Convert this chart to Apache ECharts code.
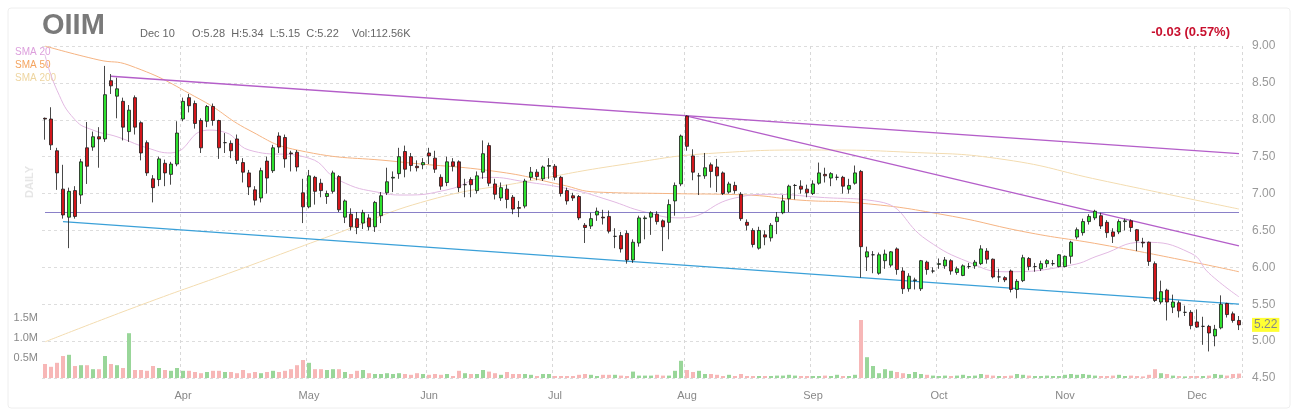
<!DOCTYPE html>
<html><head><meta charset="utf-8">
<script src="https://cdn.jsdelivr.net/npm/echarts@6/dist/echarts.min.js"></script>
<style>html,body{margin:0;padding:0;background:#fff}#c{width:1299px;height:418px}</style>
</head><body><div id="c"></div>
<script>
// [open, close, low, high]
const ohlc = [
[8.02,8.01,7.73,8.03],[8.01,7.66,7.59,8.17],[7.58,7.28,7.05,7.62],[7.06,6.71,6.66,7.39],[6.68,7.03,6.26,7.08],
[7.04,6.69,6.66,7.10],[6.98,7.43,6.86,7.47],[7.62,7.37,7.13,7.97],[7.63,7.77,7.58,7.84],[7.77,7.74,7.35,7.90],
[7.74,8.34,7.70,8.73],[8.53,8.46,8.35,8.62],[8.32,8.42,8.02,8.57],[8.25,7.90,7.72,8.30],[7.84,8.13,7.70,8.20],
[8.30,7.90,7.80,8.33],[7.96,7.55,7.45,7.98],[7.69,7.28,7.24,7.72],[7.20,7.08,6.88,7.25],[7.19,7.47,7.10,7.50],
[7.41,7.28,7.10,7.46],[7.26,7.40,7.12,7.43],[7.40,7.82,7.37,7.98],[8.01,8.25,7.98,8.30],[8.30,8.19,8.10,8.35],
[8.22,7.95,7.88,8.26],[7.99,7.62,7.55,8.02],[7.98,8.18,7.90,8.20],[8.18,7.99,7.92,8.22],[7.99,7.62,7.47,8.00],
[7.69,7.69,7.55,7.82],[7.68,7.58,7.48,7.72],[7.74,7.45,7.40,7.80],
[7.42,7.29,7.15,7.48],[7.28,7.09,6.98,7.32],[7.05,6.91,6.84,7.10],[6.94,7.31,6.88,7.35],[7.44,7.21,7.00,7.50],
[7.31,7.62,7.28,7.66],[7.78,7.63,7.55,7.83],[7.76,7.47,7.35,7.80],[7.55,7.54,7.30,7.58],[7.56,7.36,7.30,7.59],
[7.01,6.82,6.60,7.20],[6.82,7.24,6.80,7.32],[7.22,7.03,6.85,7.24],[7.14,7.04,6.95,7.20],[6.96,7.00,6.86,7.04],
[7.03,7.28,7.00,7.31],[7.23,6.78,6.75,7.25],[6.68,6.90,6.60,6.92],[6.72,6.55,6.50,6.80],[6.66,6.54,6.45,6.75],
[6.60,6.74,6.52,6.78],[6.67,6.55,6.50,6.72],[6.55,6.88,6.48,6.90],[6.70,6.97,6.60,7.02],[7.01,7.16,6.98,7.35],
[7.21,7.22,7.02,7.30],[7.27,7.50,7.20,7.62],[7.57,7.33,7.22,7.65],[7.50,7.38,7.30,7.55],[7.37,7.35,7.30,7.45],
[7.39,7.42,7.33,7.48],[7.55,7.51,7.40,7.62],[7.48,7.33,7.28,7.58],[7.22,7.10,7.05,7.26],
[7.15,7.43,7.10,7.50],[7.43,7.37,7.30,7.48],[7.43,7.08,7.02,7.45],[7.12,7.12,6.95,7.20],[7.19,7.12,6.95,7.22],
[7.04,7.24,7.00,7.30],[7.29,7.54,7.20,7.72],[7.65,7.14,7.10,7.69],[7.13,6.99,6.92,7.20],[6.94,7.08,6.90,7.15],
[7.06,6.92,6.80,7.12],[6.95,6.79,6.72,6.98],[6.81,6.80,6.68,6.90],[6.83,7.17,6.80,7.20],[7.22,7.29,7.18,7.36],
[7.29,7.23,7.18,7.33],[7.20,7.36,7.17,7.38],[7.37,7.38,7.20,7.48],[7.37,7.22,7.18,7.40],[7.22,7.00,6.96,7.24],
[7.04,6.90,6.85,7.08],[6.97,6.94,6.90,7.01],[6.96,6.67,6.64,6.98],[6.57,6.54,6.33,6.60],[6.56,6.66,6.52,6.74],
[6.71,6.76,6.63,6.81],[6.68,6.67,6.58,6.78],[6.69,6.49,6.46,6.77],[6.42,6.42,6.26,6.53],[6.43,6.25,6.20,6.48],
[6.46,6.10,6.05,6.50],[6.10,6.34,6.06,6.38],[6.33,6.67,6.28,6.70],[6.66,6.67,6.38,6.70],[6.68,6.74,6.44,6.76],
[6.72,6.62,6.58,6.76],[6.63,6.55,6.22,6.65],[6.61,6.85,6.38,6.92],
[6.90,7.11,6.70,7.15],[7.13,7.78,7.10,7.80],[8.05,7.64,7.58,8.06],[7.51,7.29,7.18,7.60],[7.24,7.24,6.98,7.28],
[7.24,7.35,7.20,7.55],[7.39,7.30,7.08,7.42],[7.36,7.24,7.02,7.47],[7.28,7.00,6.98,7.30],[7.02,7.13,7.00,7.16],
[7.11,7.04,7.00,7.16],[6.99,6.66,6.63,7.02],[6.61,6.57,6.50,6.65],[6.50,6.31,6.27,6.53],[6.26,6.50,6.24,6.55],
[6.44,6.41,6.30,6.50],[6.40,6.57,6.35,6.60],[6.62,6.68,6.45,6.75],[6.74,6.90,6.72,6.98],[6.93,7.10,6.75,7.12],
[7.11,7.11,6.92,7.13],[7.10,7.06,7.00,7.18],[7.06,7.01,6.95,7.12],[7.00,7.13,6.98,7.18],[7.14,7.28,7.12,7.42],
[7.26,7.24,7.15,7.35],[7.21,7.27,7.10,7.29],[7.22,7.22,7.18,7.26],[7.22,7.10,7.00,7.24],[7.06,7.11,7.00,7.20],
[7.14,7.28,7.12,7.38],[7.30,6.28,5.86,7.32],[6.14,6.21,5.95,6.28],[6.17,6.17,5.92,6.22],
[5.92,6.17,5.90,6.20],[6.09,6.18,5.98,6.24],[6.03,6.21,6.00,6.22],[6.25,5.97,5.90,6.27],[5.95,5.71,5.64,6.00],
[5.71,5.88,5.67,5.92],[5.82,5.83,5.70,5.86],[5.71,6.09,5.68,6.10],[6.07,5.97,5.90,6.09],[5.95,5.95,5.92,6.00],
[6.04,6.05,5.98,6.12],[6.02,6.10,5.98,6.14],[6.09,5.95,5.90,6.11],[5.93,5.98,5.90,6.01],[5.89,6.02,5.88,6.04],
[6.01,6.01,5.98,6.06],[6.02,6.07,5.98,6.10],[6.05,6.25,6.03,6.30],[6.22,6.11,6.05,6.26],[6.11,5.87,5.85,6.12],
[5.87,5.87,5.80,5.98],[5.86,5.83,5.80,5.88],[5.95,5.70,5.66,5.97],[5.70,5.81,5.58,5.84],[5.82,6.13,5.80,6.17],
[6.12,6.01,5.96,6.14],[6.01,6.01,5.94,6.06],[5.98,6.05,5.95,6.09],[6.05,6.09,6.00,6.11],[6.05,6.05,6.02,6.10],
[6.01,6.17,6.00,6.18],[6.01,6.15,6.00,6.16],[6.15,6.34,6.05,6.36],[6.41,6.51,6.38,6.54],[6.47,6.62,6.43,6.66],
[6.62,6.69,6.58,6.72],[6.67,6.76,6.64,6.78],
[6.70,6.56,6.52,6.74],[6.61,6.47,6.40,6.64],[6.48,6.42,6.33,6.53],[6.48,6.62,6.45,6.65],[6.62,6.63,6.50,6.66],
[6.63,6.54,6.48,6.65],[6.51,6.36,6.22,6.52],[6.34,6.33,6.27,6.40],[6.34,6.08,6.02,6.35],[6.05,5.55,5.53,6.08],
[5.53,5.67,5.50,5.82],[5.69,5.53,5.28,5.71],[5.46,5.53,5.38,5.63],[5.52,5.41,5.32,5.55],[5.39,5.39,5.34,5.48],
[5.39,5.21,5.16,5.42],[5.26,5.19,5.18,5.43],[5.20,5.20,4.95,5.33],[5.20,5.11,4.86,5.22],[5.07,5.16,4.93,5.22],
[5.18,5.50,5.16,5.62],[5.51,5.36,5.32,5.52],[5.37,5.28,5.25,5.40],[5.28,5.22,5.15,5.34]
];
const volume = [
0.35,0.28,0.38,0.55,0.58,0.30,0.32,0.32,0.22,0.22,0.55,0.35,0.32,0.25,1.12,
0.20,0.20,0.18,0.30,0.25,0.20,0.18,0.25,0.18,0.18,0.15,0.12,0.15,0.18,0.18,0.15,
0.15,0.12,0.20,0.12,0.15,0.12,0.15,0.18,0.15,0.18,0.22,0.32,0.45,
0.38,0.22,0.22,0.20,0.22,0.22,0.15,0.10,0.18,0.20,0.12,0.10,0.10,0.12,0.10,0.12,0.10,
0.08,0.12,0.10,0.08,0.10,0.08,0.10,0.05,0.18,0.12,0.10,0.10,0.20,0.16,0.12,0.08,0.15,0.10,0.10,0.10,
0.08,0.05,0.10,0.10,0.05,0.05,0.05,0.05,0.08,0.10,0.08,0.05,0.08,0.08,0.08,0.06,0.05,0.16,0.06,0.06,
0.06,0.08,0.06,0.06,0.18,0.43,0.20,0.15,0.18,0.10,
0.10,0.08,0.05,0.08,0.05,0.10,0.05,0.05,0.05,0.05,0.05,0.06,0.06,0.08,0.06,0.05,0.05,0.05,0.05,0.06,0.05,0.08,0.05,0.05,0.08,
1.45,0.52,0.30,0.12,0.22,0.18,0.15,0.12,0.10,0.15,
0.10,0.08,0.06,0.05,0.06,0.05,0.06,0.08,0.05,0.06,0.10,0.08,0.06,0.05,0.05,0.06,0.10,0.08,0.06,0.05,0.05,0.06,0.05,0.05,0.08,0.10,0.08,0.10,0.08,0.06,
0.05,0.05,0.06,0.08,0.05,0.06,0.05,0.04,0.08,0.22,0.12,0.10,0.06,0.05,0.04,0.05,0.05,0.05,0.06,0.10,0.08,0.06,0.10,0.11
];
const monthTicks = {23:'Apr',44:'May',64:'Jun',85:'Jul',107:'Aug',128:'Sep',149:'Oct',170:'Nov',192:'Dec'};
const volTicks = ['0.5M','1.0M','1.5M'];
const sma20 = [[0,8.88],[2,8.4],[5,8.0],[8,7.86],[12,7.77],[17,7.62],[21,7.55],[27,7.86],[30,7.83],[34,7.59],[44,7.48],[49,7.18],[56,7.01],[60,6.98],[67,7.05],[74,7.22],[80,7.16],[88,7.05],[94,6.91],[100,6.75],[106,6.67],[115,6.94],[121,6.99],[129,6.95],[139,6.89],[147,6.37],[154,6.07],[160,5.94],[171,6.03],[176,6.17],[183,6.34],[191,6.19],[194,5.92],[199,5.60]];
const sma50 = [[0,9.0],[9,8.81],[14,8.74],[26,8.27],[34,7.86],[42,7.59],[59,7.43],[76,7.29],[86,7.12],[92,7.02],[104,7.0],[117,6.98],[126,6.91],[136,6.87],[150,6.71],[164,6.47],[176,6.31],[192,6.06],[199,5.94]];
const sma200 = [[0,4.99],[16,5.49],[32,5.96],[48,6.44],[64,6.91],[80,7.16],[96,7.39],[112,7.55],[128,7.59],[144,7.56],[160,7.46],[176,7.18],[199,6.79]];
const trendLines = [
  {from:[11,8.59], to:[199,7.54], color:'#b45ec9', width:1.3},
  {from:[107,8.05], to:[199,6.29], color:'#b45ec9', width:1.3},
  {from:[0,6.75], to:[199,6.75], color:'#8a80c8', width:1},
  {from:[3,6.62], to:[199,5.50], color:'#3aa0d8', width:1.2}
];
const lastPrice = 5.22;

const cats = ohlc.map((d,i)=>String(i));
const F = '"Liberation Sans", Arial, sans-serif';
const chart = echarts.init(document.getElementById('c'));
const volData = volume.map((v,i)=>({value:v, itemStyle:{color: ohlc[i][1]>=ohlc[i][0] ? '#99d699' : '#f7b7b7'}}));
const isTick = i => monthTicks[i] !== undefined;
chart.setOption({
  animation:false,
  graphic:[
    {type:'rect', shape:{x:8,y:8,width:1282,height:400,r:3}, style:{fill:'none', stroke:'#eeeeee', lineWidth:1}, z:-1},
    {type:'text', left:42, top:11, style:{text:'OIIM', font:'bold 29px '+F, fill:'#7a7a7a'}},
    {type:'text', left:140, top:28, style:{text:'Dec 10', font:'11px '+F, fill:'#666'}},
    {type:'text', left:192, top:28, style:{text:'O:5.28  H:5.34  L:5.15  C:5.22', font:'11px '+F, fill:'#666'}},
    {type:'text', left:352, top:28, style:{text:'Vol:112.56K', font:'11px '+F, fill:'#666'}},
    {type:'text', right:69, top:26, style:{text:'-0.03 (0.57%)', font:'bold 13px '+F, fill:'#c8102e'}},
    {type:'text', left:15, top:47, style:{text:'SMA 20', font:'10px '+F, fill:'#dda0dd'}},
    {type:'text', left:15, top:60, style:{text:'SMA 50', font:'10px '+F, fill:'#f4a460'}},
    {type:'text', left:15, top:73, style:{text:'SMA 200', font:'10px '+F, fill:'#eed5a0'}},
    {type:'text', left:24, top:166, rotation:Math.PI/2, style:{text:'DAILY', font:'bold 11px '+F, fill:'#e6e6e6'}}
  ],
  grid:[{left:42, right:57, top:46, bottom:40},{left:42, right:57, top:46, bottom:40}],
  xAxis:[
    {type:'category', data:cats, gridIndex:0, boundaryGap:true,
     axisLine:{show:false}, axisTick:{show:false},
     axisLabel:{interval:(i)=>isTick(i), formatter:(v,i)=>monthTicks[i]||'', color:'#888', fontSize:11, fontFamily:F, margin:12},
     splitLine:{show:true, interval:(i)=>isTick(i), lineStyle:{color:'#d8d8d8', type:[3,3]}}},
    {type:'category', data:cats, gridIndex:1, show:false, boundaryGap:true}
  ],
  yAxis:[
    {type:'value', gridIndex:0, position:'right', min:4.5, max:9, interval:0.5,
     axisLine:{show:false}, axisTick:{show:false},
     axisLabel:{color:'#999', fontSize:12, fontFamily:F, margin:10, formatter:v=>v.toFixed(2)},
     splitLine:{lineStyle:{color:'#dddddd', type:[3,3]}}},
    {type:'value', gridIndex:1, position:'left', min:0, max:8.3, interval:0.5,
     axisLine:{show:false}, axisTick:{show:false}, splitLine:{show:false},
     axisLabel:{color:'#888', fontSize:11, fontFamily:F, margin:4,
       formatter:v=>{const k=Math.round(v*2)-1; return (k>=0&&k<volTicks.length)?volTicks[k]:'';}}}
  ],
  series:[
    {type:'bar', xAxisIndex:1, yAxisIndex:1, data:volData, barWidth:4, z:1},
    {type:'line', data:sma200, smooth:true, showSymbol:false, lineStyle:{color:'#f3dcb0', width:1}, z:2},
    {type:'line', data:sma50, smooth:true, showSymbol:false, lineStyle:{color:'#f5b483', width:1}, z:2},
    {type:'line', data:sma20, smooth:true, showSymbol:false, lineStyle:{color:'#e2b9e2', width:1}, z:2},
    {type:'line', data:[], z:3,
     markLine:{symbol:'none', silent:true, label:{show:false},
       data: trendLines.map(t=>[{coord:t.from, lineStyle:{color:t.color, width:t.width, type:'solid'}},{coord:t.to}])}},
    {type:'candlestick', data:ohlc, barWidth:4, z:5,
     itemStyle:{color:'#2de02d', color0:'#d2161b', borderColor:'#1a1a1a', borderColor0:'#1a1a1a', borderWidth:0.8},
     markPoint:{symbol:'rect', symbolSize:0, silent:true,
       data:[{coord:[ohlc.length-1, lastPrice], value:lastPrice}],
       label:{show:true, position:'right', offset:[8,0], formatter:lastPrice.toFixed(2), backgroundColor:'#ffff33', color:'#888', fontSize:12, fontFamily:F, padding:[1,2]}}}
  ]
});
</script></body></html>
